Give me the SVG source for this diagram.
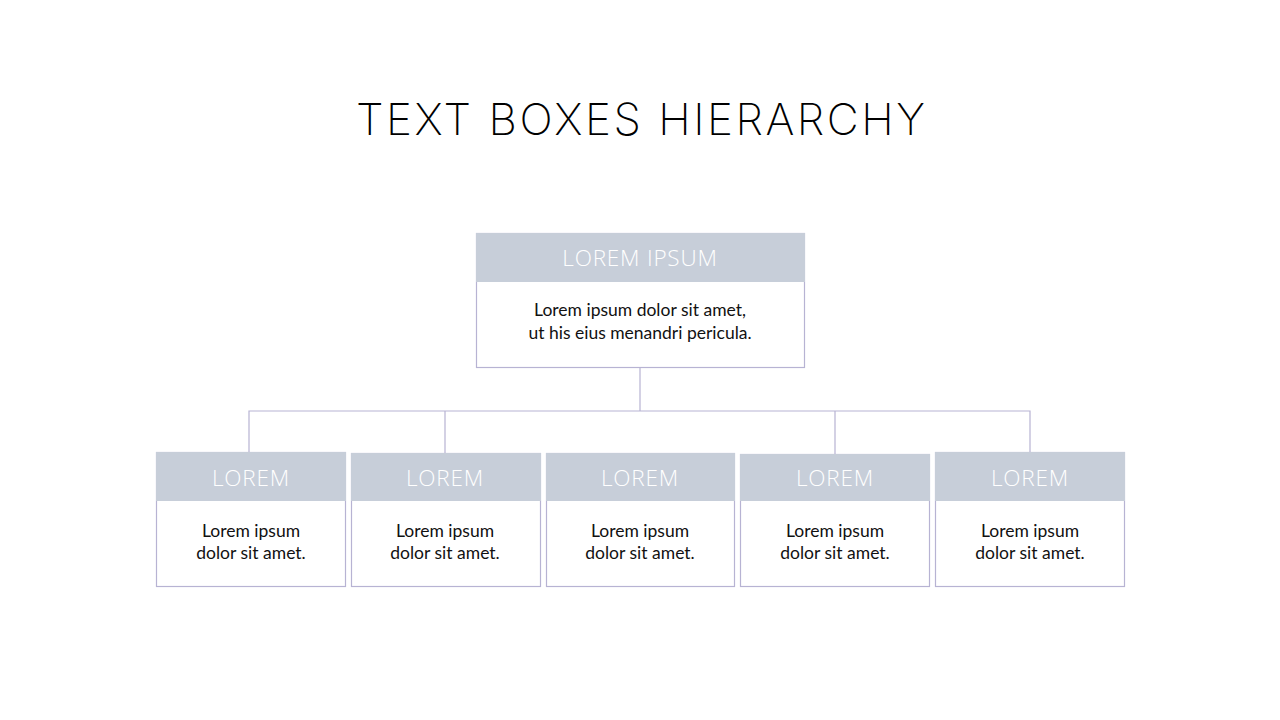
<svg xmlns="http://www.w3.org/2000/svg" width="1280" height="720" viewBox="0 0 1280 720">
<style>
.hd{fill:#C7CED9}
.bx{fill:#FFFFFF;stroke:#B7B3D3;stroke-width:1.2}
.ht{font-family:"Open Sans","Noto Sans",sans-serif;font-weight:300;font-size:22.5px;letter-spacing:0.8px;fill:#FFFFFF;text-anchor:middle}
.bt{font-family:Lato,"Liberation Sans",sans-serif;font-size:17.5px;fill:#111111;text-anchor:middle}
.ln{fill:none;stroke:#B7B3D3;stroke-width:1.2}
.ti{font-family:Inter,"Noto Sans",sans-serif;font-weight:200;font-size:44px;fill:#000000}
</style>
<rect width="1280" height="720" fill="#FFFFFF"/>
<text class="ti" x="356" y="135" textLength="569" lengthAdjust="spacing">TEXT BOXES HIERARCHY</text>
<g id="connectors">
<path class="ln" d="M640,367 V411 M249,452 V411 H1030 V452 M445,411 V453 M835,411 V454"/>
</g>
<g id="root">
<rect class="bx" x="476.5" y="233.5" width="328" height="134"/>
<rect class="hd" x="476" y="233" width="329" height="49"/>
<text class="ht" x="640" y="266">LOREM IPSUM</text>
<text class="bt" x="640" y="316">Lorem ipsum dolor sit amet,</text>
<text class="bt" x="640" y="339">ut his eius menandri pericula.</text>
</g>
<g id="n1">
<rect class="bx" x="156.5" y="452.5" width="189" height="134"/>
<rect class="hd" x="156" y="452" width="190" height="49"/>
<text class="ht" x="251" y="486">LOREM</text>
<text class="bt" x="251" y="537">Lorem ipsum</text>
<text class="bt" x="251" y="559">dolor sit amet.</text>
</g>
<g id="n2">
<rect class="bx" x="351.5" y="453.5" width="189" height="133"/>
<rect class="hd" x="351" y="453" width="190" height="48"/>
<text class="ht" x="445" y="486">LOREM</text>
<text class="bt" x="445" y="537">Lorem ipsum</text>
<text class="bt" x="445" y="559">dolor sit amet.</text>
</g>
<g id="n3">
<rect class="bx" x="546.5" y="453.5" width="188" height="133"/>
<rect class="hd" x="546" y="453" width="189" height="48"/>
<text class="ht" x="640" y="486">LOREM</text>
<text class="bt" x="640" y="537">Lorem ipsum</text>
<text class="bt" x="640" y="559">dolor sit amet.</text>
</g>
<g id="n4">
<rect class="bx" x="740.5" y="454.5" width="189" height="132"/>
<rect class="hd" x="740" y="454" width="190" height="47"/>
<text class="ht" x="835" y="486">LOREM</text>
<text class="bt" x="835" y="537">Lorem ipsum</text>
<text class="bt" x="835" y="559">dolor sit amet.</text>
</g>
<g id="n5">
<rect class="bx" x="935.5" y="452.5" width="189" height="134"/>
<rect class="hd" x="935" y="452" width="190" height="49"/>
<text class="ht" x="1030" y="486">LOREM</text>
<text class="bt" x="1030" y="537">Lorem ipsum</text>
<text class="bt" x="1030" y="559">dolor sit amet.</text>
</g>
</svg>
